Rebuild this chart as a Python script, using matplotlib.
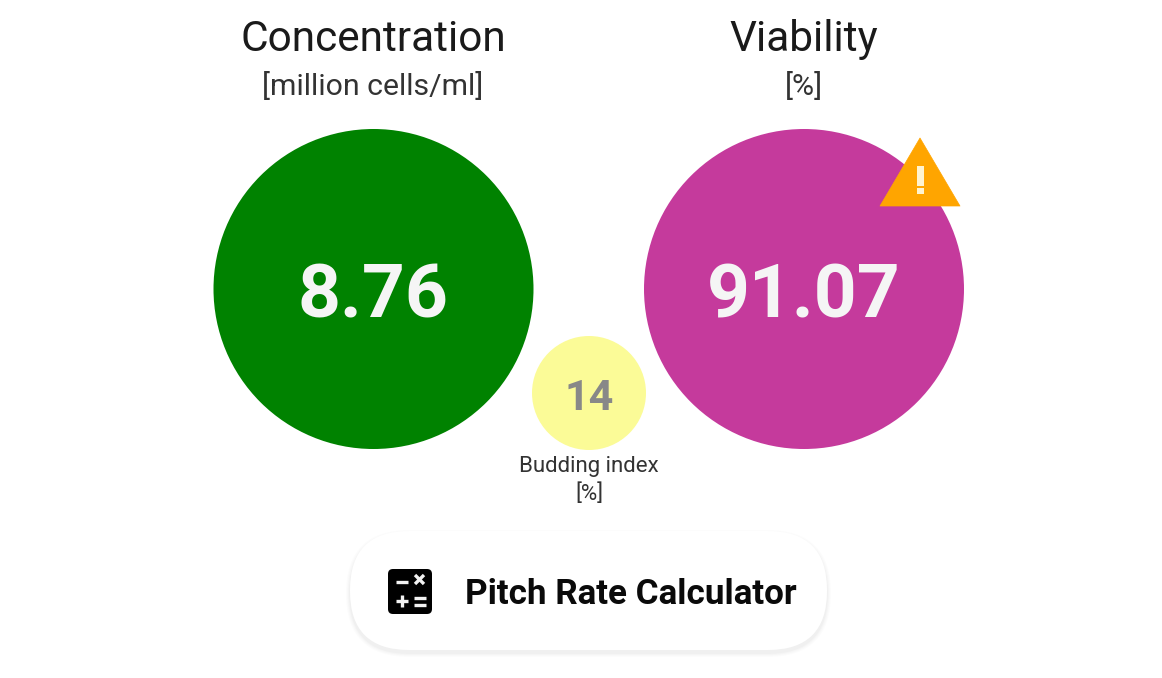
import matplotlib
matplotlib.use("Agg")
import matplotlib.pyplot as plt
from matplotlib.patches import Circle, FancyBboxPatch, Polygon, Rectangle

plt.rcParams['font.family'] = ['Roboto', 'DejaVu Sans']

titles = ["Concentration", "Viability"]
units = ["[million cells/ml]", "[%]"]
values = ["8.76", "91.07"]
colors = ["#008200", "#C53A9C"]
budding_value = "14"
budding_label = "Budding index\n[%]"
button_label = "Pitch Rate Calculator"

fig = plt.figure(figsize=(11.62, 6.78), dpi=100)
ax = fig.add_axes([0, 0, 1, 1])
ax.set_xlim(0, 1162)
ax.set_ylim(678, 0)
ax.axis("off")

centers = [(373.5, 289), (804, 289)]
for i in range(2):
    ax.add_patch(Circle(centers[i], 160, color=colors[i], lw=0))
    ax.text(centers[i][0] - 0.5, 39.5, titles[i], ha="center", va="center", fontsize=30.5, color="#1a1a1a")
    ax.text(centers[i][0] - 0.5, 87, units[i], ha="center", va="center", fontsize=21.8, color="#333333")
    ax.text(centers[i][0] - 0.5, 298, values[i], ha="center", va="center", fontsize=54, fontweight="bold", color="#f5f5f5")

ax.add_patch(Circle((589, 393), 57, color="#FBFB97", lw=0))
ax.text(589, 398, budding_value, ha="center", va="center", fontsize=31, fontweight="bold", color="#888888")
ax.text(589, 480.5, budding_label, ha="center", va="center", fontsize=16, color="#333333", linespacing=1.4)

# warning triangle
ax.add_patch(Polygon([(920, 138), (960, 206), (880, 206)], closed=True, facecolor="#FFA500", edgecolor="#FFA500", lw=0.5, joinstyle="round"))
ax.add_patch(Rectangle((916.5, 166), 7, 20, color="#FFF3D0", lw=0))
ax.add_patch(Rectangle((916.5, 188), 7, 6, color="#FFF3D0", lw=0))

# button with soft shadow
for off, alpha in [(4, 0.010), (3, 0.012), (2, 0.016), (1, 0.02)]:
    ax.add_patch(FancyBboxPatch((350 - off, 532 - off + 2), 477 + 2 * off, 119 + 2 * off,
                                boxstyle="round,pad=0,rounding_size=%g" % (59 + off),
                                facecolor="black", edgecolor="none", alpha=alpha))
ax.add_patch(FancyBboxPatch((350, 531), 477, 119, boxstyle="round,pad=0,rounding_size=59",
                            facecolor="white", edgecolor="none"))

# calculator icon
ax.add_patch(FancyBboxPatch((388, 569), 44, 45, boxstyle="round,pad=0,rounding_size=5",
                            facecolor="black", edgecolor="none"))
kw = dict(color="#f2f2f2", lw=2.4, solid_capstyle="butt")
ax.plot([396, 408], [582, 582], **kw)
ax.plot([396, 408], [601, 601], **kw)
ax.plot([402, 402], [595, 607], **kw)
ax.plot([414, 426], [597.5, 597.5], **kw)
ax.plot([414, 426], [604.5, 604.5], **kw)
ax.plot([415, 424], [575, 584], **kw)
ax.plot([415, 424], [584, 575], **kw)

ax.text(631, 595, button_label, ha="center", va="center", fontsize=25.2, fontweight="bold", color="#0a0a0a")

fig.savefig("out.png", dpi=100, facecolor="white")
